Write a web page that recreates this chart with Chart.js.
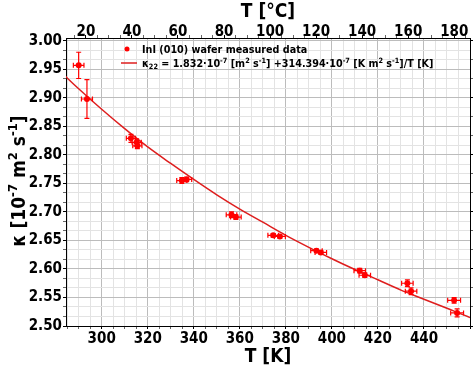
<!DOCTYPE html>
<html>
<head>
<meta charset="utf-8">
<script src="https://cdn.jsdelivr.net/npm/chart.js@4.4.1/dist/chart.umd.min.js"></script>
<style>
  html, body { margin: 0; padding: 0; background: #fff; }
  #wrap { width: 474px; height: 369px; position: relative; }
</style>
</head>
<body>
<div id="wrap"><canvas id="chart"></canvas></div>
<script>
// measured points (T in K, kappa in 1e-7 m2/s)
const tempK    = [290.0, 293.6, 312.7, 315.2, 315.5, 334.8, 336.9, 356.4, 358.3, 374.5, 377.4, 393.3, 395.2, 412.1, 414.3, 432.8, 434.4, 453.1, 454.4];
const kappa    = [2.957, 2.898, 2.829, 2.822, 2.816, 2.755, 2.757, 2.695, 2.691, 2.659, 2.657, 2.632, 2.629, 2.597, 2.589, 2.575, 2.561, 2.545, 2.523];
const tempErr  = [2.3, 2.4, 2.0, 2.0, 2.0, 2.2, 2.2, 2.3, 2.3, 2.3, 2.4, 2.5, 2.5, 2.5, 2.5, 2.5, 2.5, 2.8, 2.8];
const kappaErr = [0.023, 0.034, 0.007, 0.006, 0.005, 0.005, 0.004, 0.005, 0.004, 0.003, 0.003, 0.003, 0.003, 0.004, 0.004, 0.006, 0.006, 0.005, 0.007];

// fitted curve kappa_22(T)
const fitT = [280, 285, 290, 300, 310, 320, 330, 340, 350, 360, 370, 380, 390, 400, 410, 420, 430, 440, 450, 460, 465];
const fitK = [2.955, 2.935, 2.916, 2.880, 2.846, 2.814, 2.785, 2.757, 2.730, 2.705, 2.682, 2.659, 2.638, 2.618, 2.599, 2.581, 2.563, 2.547, 2.531, 2.515, 2.508];

// axis ticks
const kelvinTicks  = [300, 320, 340, 360, 380, 400, 420, 440];
const celsiusTicks = [20, 40, 60, 80, 100, 120, 140, 160, 180];
const kappaTicks   = [2.50, 2.55, 2.60, 2.65, 2.70, 2.75, 2.80, 2.85, 2.90, 2.95, 3.00];

const pointLabel = 'InI (010) wafer measured data';
const fitLabel = [
  {t: 'κ'}, {t: '22', sub: true}, {t: ' = 1.832·10'}, {t: '-7', sup: true},
  {t: ' [m'}, {t: '2', sup: true}, {t: ' s'}, {t: '-1', sup: true},
  {t: '] +314.394·10'}, {t: '-7', sup: true}, {t: ' [K m'}, {t: '2', sup: true},
  {t: ' s'}, {t: '-1', sup: true}, {t: ']/T [K]'}
];
const yTitle = [
  {t: 'κ [10'}, {t: '-7', sup: true}, {t: ' m'}, {t: '2', sup: true},
  {t: ' s'}, {t: '-1', sup: true}, {t: ']'}
];

const FONT = "'DejaVu Sans Condensed', 'DejaVu Sans', sans-serif";
const RED = '#ff0000';
const LINE_RED = 'rgb(222, 30, 30)';
const MAJOR_GRID = '#bcbcbc';
const MINOR_GRID = '#e3e3e3';

const K_MIN = 284.5, K_MAX = 460;
const Y_MIN = 2.5, Y_MAX = 3.005;

Chart.defaults.font.family = FONT;
Chart.defaults.font.weight = 'bold';
Chart.defaults.color = '#000';

function steps(from, to, step) {
  const out = [];
  for (let i = 0; from + i * step <= to + 1e-9; i++) out.push(+(from + i * step).toFixed(6));
  return out;
}
const isMultiple = (v, step) => Math.abs(v / step - Math.round(v / step)) < 1e-6;

// draws text with sub/superscripts, returns width
function drawRich(ctx, parts, x, y, size, measureOnly) {
  let cx = x;
  parts.forEach(p => {
    const small = p.sup || p.sub;
    ctx.font = 'bold ' + (small ? size * 0.68 : size) + 'px ' + FONT;
    const dy = p.sup ? -size * 0.4 : (p.sub ? size * 0.22 : 0);
    if (!measureOnly) ctx.fillText(p.t, cx, y + dy);
    cx += ctx.measureText(p.t).width;
  });
  return cx - x;
}

const errorBars = {
  id: 'errorBars',
  afterDatasetsDraw(chart) {
    const {ctx, scales: {x, y}} = chart;
    ctx.save();
    ctx.strokeStyle = RED;
    ctx.lineWidth = 1.2;
    const cap = 2.5;
    tempK.forEach((t, i) => {
      const px = x.getPixelForValue(t), py = y.getPixelForValue(kappa[i]);
      const x0 = x.getPixelForValue(t - tempErr[i]), x1 = x.getPixelForValue(t + tempErr[i]);
      const y0 = y.getPixelForValue(kappa[i] - kappaErr[i]), y1 = y.getPixelForValue(kappa[i] + kappaErr[i]);
      ctx.beginPath();
      ctx.moveTo(x0, py); ctx.lineTo(x1, py);
      ctx.moveTo(x0, py - cap); ctx.lineTo(x0, py + cap);
      ctx.moveTo(x1, py - cap); ctx.lineTo(x1, py + cap);
      ctx.moveTo(px, y0); ctx.lineTo(px, y1);
      ctx.moveTo(px - cap, y0); ctx.lineTo(px + cap, y0);
      ctx.moveTo(px - cap, y1); ctx.lineTo(px + cap, y1);
      ctx.stroke();
    });
    ctx.restore();
  }
};

const decorations = {
  id: 'decorations',
  afterDraw(chart) {
    const {ctx, chartArea: a} = chart;
    ctx.save();
    ctx.fillStyle = '#000';
    ctx.textBaseline = 'alphabetic';

    // y axis title, rotated
    const size = 19;
    const w = drawRich(ctx, yTitle, 0, 0, size, true);
    ctx.translate(18, (a.top + a.bottom) / 2 - 1);
    ctx.rotate(-Math.PI / 2);
    drawRich(ctx, yTitle, -w / 2, 7, size);
    ctx.setTransform(1, 0, 0, 1, 0, 0);

    // legend
    const lx = a.left + 61, ly = a.top + 15;
    ctx.fillStyle = RED;
    ctx.beginPath();
    ctx.arc(lx, ly - 4, 2.5, 0, Math.PI * 2);
    ctx.fill();
    ctx.strokeStyle = LINE_RED;
    ctx.lineWidth = 1.5;
    ctx.beginPath();
    ctx.moveTo(lx - 6, ly + 10); ctx.lineTo(lx + 10, ly + 10);
    ctx.stroke();
    ctx.fillStyle = '#000';
    ctx.font = 'bold 10.7px ' + FONT;
    ctx.fillText(pointLabel, lx + 15, ly);
    drawRich(ctx, fitLabel, lx + 15, ly + 14, 10.7);
    ctx.restore();
  }
};

const gridColor = (isMaj) => isMaj ? MAJOR_GRID : MINOR_GRID;

new Chart(document.getElementById('chart'), {
  type: 'scatter',
  data: {
    datasets: [
      {
        label: pointLabel,
        data: tempK.map((t, i) => ({x: t, y: kappa[i]})),
        backgroundColor: RED,
        borderColor: RED,
        borderWidth: 0,
        pointRadius: 3
      },
      {
        label: 'fit',
        type: 'line',
        data: fitT.map((t, i) => ({x: t, y: fitK[i]})),
        borderColor: LINE_RED,
        borderWidth: 1.5,
        pointRadius: 0,
        fill: false,
        cubicInterpolationMode: 'monotone'
      }
    ]
  },
  options: {
    responsive: true,
    maintainAspectRatio: false,
    animation: false,
    layout: { padding: 0 },
    plugins: { legend: { display: false }, tooltip: { enabled: false } },
    scales: {
      x: {
        type: 'linear', position: 'bottom', min: K_MIN, max: K_MAX,
        afterBuildTicks: s => { s.ticks = steps(285, 460, 5).map(v => ({value: v})); },
        afterFit: s => { s.height = 43; },
        ticks: {
          autoSkip: false, maxRotation: 0, padding: 1, font: {size: 15},
          callback: v => kelvinTicks.includes(v) ? String(v) : ''
        },
        grid: {
          color: c => gridColor(c.tick && isMultiple(c.tick.value, 20)),
          tickColor: c => (c.tick && isMultiple(c.tick.value, 20)) ? '#000' : '#666',
          tickLength: 3
        },
        border: { color: '#000', width: 1 },
        title: { display: true, text: 'T [K]', font: {size: 19, lineHeight: 1}, padding: {top: 0, bottom: 2} }
      },
      x2: {
        type: 'linear', position: 'top', min: K_MIN - 273.15, max: K_MAX - 273.15,
        afterBuildTicks: s => { s.ticks = steps(15, 185, 5).map(v => ({value: v})); },
        afterFit: s => { s.height = 38; },
        ticks: {
          autoSkip: false, maxRotation: 0, padding: -6, font: {size: 15},
          callback: v => celsiusTicks.includes(v) ? String(v) : ''
        },
        grid: {
          drawOnChartArea: false,
          tickColor: c => (c.tick && isMultiple(c.tick.value, 20)) ? '#000' : '#666',
          tickLength: 3
        },
        border: { color: '#000', width: 1 },
        title: { display: true, text: 'T [°C]', font: {size: 19, lineHeight: 1}, padding: {top: 3, bottom: 0} }
      },
      y: {
        type: 'linear', position: 'left', min: Y_MIN, max: Y_MAX,
        afterBuildTicks: s => { s.ticks = steps(2.5, 3.0, 0.05 / 3).map(v => ({value: v})); },
        afterFit: s => { s.width = 66; },
        ticks: {
          autoSkip: false, padding: 1, font: {size: 15},
          callback: v => {
            const hit = kappaTicks.find(k => Math.abs(k - v) < 1e-6);
            return hit !== undefined ? hit.toFixed(2) : '';
          }
        },
        grid: {
          color: c => gridColor(c.tick && isMultiple(c.tick.value, 0.05)),
          tickColor: c => (c.tick && isMultiple(c.tick.value, 0.05)) ? '#000' : '#666',
          tickLength: 3
        },
        border: { color: '#000', width: 1 }
      },
      y2: {
        type: 'linear', position: 'right', min: Y_MIN, max: Y_MAX,
        afterBuildTicks: s => { s.ticks = steps(2.5, 3.0, 0.05 / 3).map(v => ({value: v})); },
        afterFit: s => { s.width = 3; },
        ticks: { callback: () => '' , padding: 0},
        grid: {
          drawOnChartArea: false,
          tickColor: c => (c.tick && isMultiple(c.tick.value, 0.05)) ? '#000' : '#666',
          tickLength: 3
        },
        border: { color: '#000', width: 1 }
      }
    }
  },
  plugins: [errorBars, decorations]
});
</script>
</body>
</html>
